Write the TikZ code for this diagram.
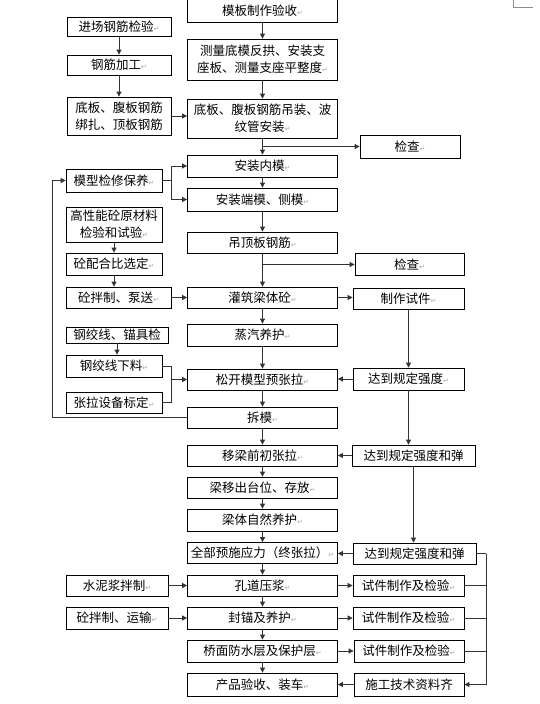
\documentclass[tikz,border=0pt]{standalone}
\usepackage{fontspec}
\setmainfont{Noto Sans CJK SC}
\newfontfamily\retfont{DejaVu Sans}
\usetikzlibrary{arrows.meta, positioning, calc}
\newcommand{\rt}{{\retfont\fontsize{7}{7}\selectfont\color{black!35}↵}}

\begin{document}
\begin{tikzpicture}[x=1pt, y=-1pt,
    box/.style={draw, line width=0.8pt, inner sep=0pt, align=center, font=\fontsize{12.5}{17}\selectfont},
    mainbox/.style={box, minimum width=150pt, minimum height=22pt},
    rightbox/.style={box, minimum width=111pt, minimum height=22pt},
    arrow/.style={-{Triangle[length=5pt, width=5pt]}, line width=0.8pt, black!80},
    link/.style={line width=0.8pt, black!80}
]
    \useasboundingbox (0,0) rectangle (539,704);
    \draw[black!45, line width=0.6pt] (513,0) -- (513,7) -- (533,7);

    % main column
    \node[mainbox, minimum height=23pt] (mb) at (262.5,10.5) {模板制作验收\rt};
    \node[mainbox, minimum height=41pt] (cl) at (262.5,59.5) {测量底模反拱、安装支\\座板、测量支座平整度\rt};
    \node[mainbox, minimum height=39pt] (dz) at (262.5,118.5) {底板、腹板钢筋吊装、波\\纹管安装\rt};
    \node[mainbox] (nm) at (262.5,166) {安装内模\rt};
    \node[mainbox, minimum height=23pt] (dm) at (262.5,199.5) {安装端模、侧模\rt};
    \node[mainbox, minimum height=21pt] (dg) at (262.5,242.5) {吊顶板钢筋\rt};
    \node[mainbox, minimum height=21pt] (gz) at (262.5,297.5) {灌筑梁体砼\rt};
    \node[mainbox] (zq) at (262.5,335) {蒸汽养护\rt};
    \node[mainbox, minimum height=21pt] (sk) at (262.5,379.5) {松开模型预张拉\rt};
    \node[mainbox, minimum height=21pt] (cm) at (262.5,417.5) {拆模\rt};
    \node[mainbox, minimum height=21pt] (yl) at (262.5,455.5) {移梁前初张拉\rt};
    \node[mainbox, minimum height=21pt] (lc) at (262.5,487.5) {梁移出台位、存放\rt};
    \node[mainbox] (zr) at (262.5,520) {梁体自然养护\rt};
    \node[mainbox, minimum height=21pt] (qb) at (262.5,553) {全部预施应力（终张拉）\rt};
    \node[mainbox, minimum height=21pt] (kd) at (262.5,585.5) {孔道压浆\rt};
    \node[mainbox] (fm) at (262.5,618) {封锚及养护\rt};
    \node[mainbox] (qm) at (262.5,651) {桥面防水层及保护层\rt};
    \node[mainbox, minimum height=23pt] (cp) at (262.5,684.5) {产品验收、装车\rt};

    % left column
    \node[box, minimum width=104pt, minimum height=19pt] (jc) at (119,26.5) {进场钢筋检验\rt};
    \node[box, minimum width=104pt, minimum height=20pt] (gj) at (119,65) {钢筋加工\rt};
    \node[box, minimum width=104pt, minimum height=38pt] (bz) at (119,116) {底板、腹板钢筋\\绑扎、顶板钢筋};
    \node[box, minimum width=96pt, minimum height=23pt] (mx) at (114,180.5) {模型检修保养\rt};
    \node[box, minimum width=96pt, minimum height=35pt] (gx) at (114,224.5) {高性能砼原材料\\检验和试验\rt};
    \node[box, minimum width=96pt, minimum height=22pt] (pb) at (114,264) {砼配合比选定\rt};
    \node[box, minimum width=105pt, minimum height=21pt] (bs) at (118.5,297.5) {砼拌制、泵送\rt};
    \node[box, minimum width=102pt, minimum height=16pt] (mj) at (117,335) {钢绞线、锚具检};
    \node[box, minimum width=96pt, minimum height=22pt] (xl) at (114,366) {钢绞线下料\rt};
    \node[box, minimum width=96pt, minimum height=21pt] (bd) at (114,402.5) {张拉设备标定\rt};
    \node[box, minimum width=102pt, minimum height=21pt] (sn) at (117,585.5) {水泥浆拌制\rt};
    \node[box, minimum width=102pt, minimum height=22pt] (ys) at (117,618) {砼拌制、运输\rt};

    % right column
    \node[box, minimum width=100pt, minimum height=23pt] (jc1) at (410,146.5) {检查\rt};
    \node[box, minimum width=109pt, minimum height=22pt] (jc2) at (409.5,264.5) {检查\rt};
    \node[rightbox, minimum height=21pt] (zs) at (408.5,298.5) {制作试件\rt};
    \node[rightbox] (dd) at (408.5,379) {达到规定强度\rt};
    \node[box, minimum width=123pt, minimum height=21pt] (dt1) at (413.5,455.5) {达到规定强度和弹};
    \node[box, minimum width=123pt, minimum height=21pt] (dt2) at (414.5,553.5) {达到规定强度和弹};
    \node[rightbox, minimum height=21pt] (sj1) at (408.5,585.5) {试件制作及检验\rt};
    \node[rightbox] (sj2) at (408.5,618) {试件制作及检验\rt};
    \node[box, minimum width=110pt, minimum height=22pt] (sj3) at (409,651) {试件制作及检验\rt};
    \node[box, minimum width=110pt, minimum height=23pt] (sg) at (409,684.5) {施工技术资料齐};

    % main flow
    \foreach \a/\b in {mb/cl, cl/dz, dz/nm, nm/dm, dm/dg, dg/gz, gz/zq, zq/sk, sk/cm,
                       cm/yl, yl/lc, lc/zr, zr/qb, qb/kd, kd/fm, fm/qm, qm/cp}
        \draw[arrow] (\a.south) -- (\b.north);

    % checks
    \draw[arrow] (dz.south |- jc1.west) -- (jc1.west);
    \draw[arrow] (dg.south |- jc2.west) -- (jc2.west);

    % left side
    \draw[arrow] (jc) -- (gj);
    \draw[arrow] (gj) -- (bz);
    \draw[arrow] (gx) -- (pb);
    \draw[arrow] (pb.south) -- (pb.south |- bs.north);
    \draw[arrow] (mj.south) -- (mj.south |- xl.north);
    \foreach \a/\b in {bz/dz, bs/gz, sn/kd, ys/fm, gz/zs, kd/sj1, fm/sj2, qm/sj3}
        \draw[arrow] (\a.east) -- (\a.east -| \b.west);
    \foreach \a/\b in {dd/sk, dt1/yl, dt2/qb, sg/cp}
        \draw[arrow] (\a.west) -- (\a.west -| \b.east);

    % mould forks
    \coordinate (mxf) at ($(mx.east)+(9,0)$);
    \draw[link] (mx.east) -- (mxf);
    \draw[arrow] (mxf) |- (nm.west);
    \draw[arrow] (mxf) |- (dm.west);
    \coordinate (skf) at ($(sk.west)+(-16,0)$);
    \draw[link] (xl.east) -| (skf);
    \draw[link] (bd.east) -| (skf);
    \draw[arrow] (skf) -- (sk.west);
    \draw[arrow] (cm.west) -| ($(mx.west)+(-13,0)$) -- (mx.west);

    % strength checks
    \draw[arrow] (zs) -- (dd);
    \draw[arrow] (dd.south) -- (dd.south |- dt1.north);
    \draw[arrow] (dt1.south) -- (dt1.south |- dt2.north);

    % records
    \coordinate (rr) at ($(dt2.east)+(10,0)$);
    \draw[link] (dt2.east) -- (rr);
    \draw[arrow] (rr) |- (sg.east);
    \foreach \n in {sj1, sj2, sj3}
        \draw[link] (\n.east) -- (\n.east -| rr);
\end{tikzpicture}
\end{document}
